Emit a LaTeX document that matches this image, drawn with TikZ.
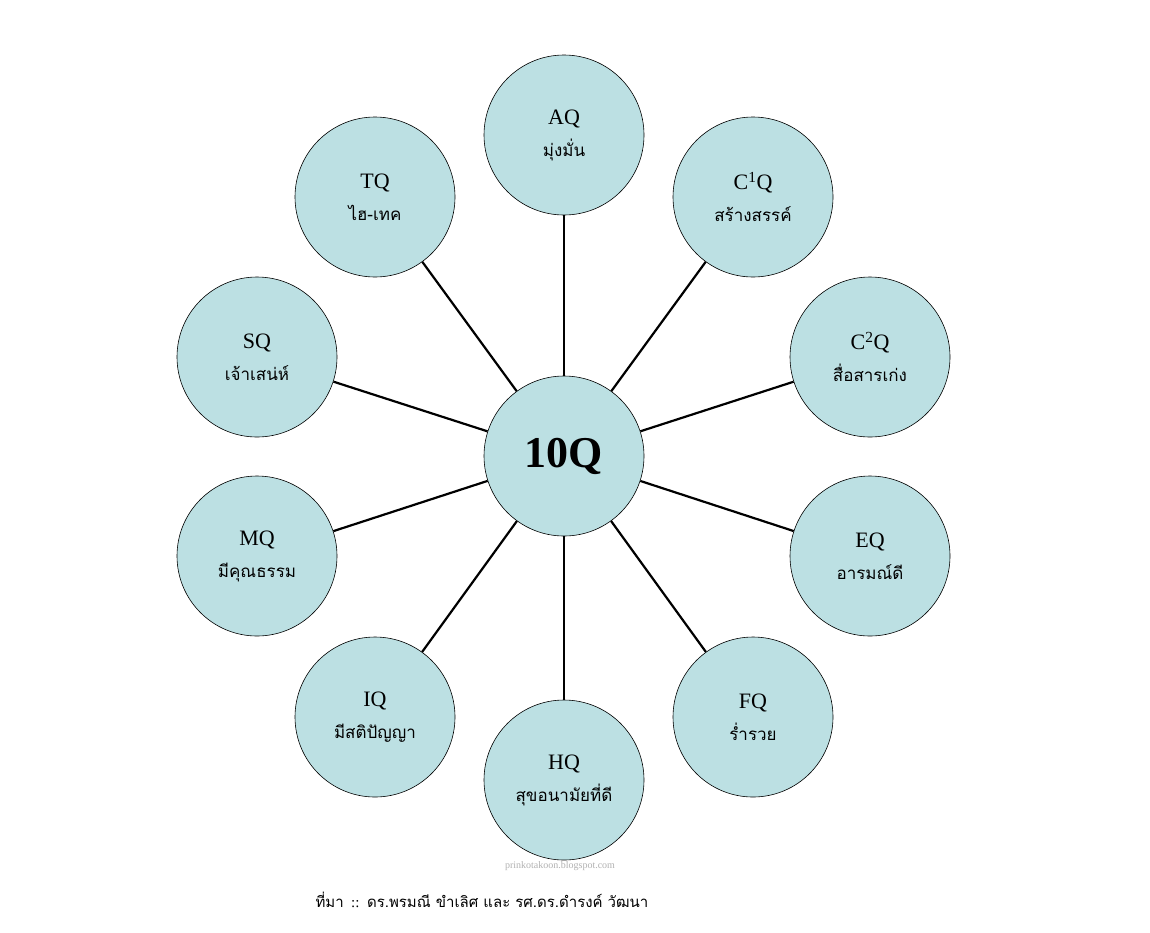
\documentclass[tikz,border=0pt]{standalone}
\usepackage{fontspec}
\setmainfont{Liberation Serif}
\newfontfamily\thai[Script=Thai]{Loma}
\definecolor{cfill}{HTML}{BCE0E3}
\tikzset{qc/.style={circle,draw=black,line width=0.6pt,fill=cfill,minimum size=160pt,inner sep=0pt,align=center,font=\fontsize{22}{30}\selectfont},
link/.style={line width=2.2pt}}
\begin{document}
\begin{tikzpicture}[x=1pt,y=-1pt]
\useasboundingbox[fill=white] (0,0) rectangle (1150,932);
\node[qc,font=\fontsize{44}{48}\selectfont\bfseries] (c) at (564,456) {10Q};
\foreach \n/\x/\y/\a/\b in {aq/564/135/AQ/มุ่งมั่น, c1/753/197/C\textsuperscript{1}Q/สร้างสรรค์, c2/870/357/C\textsuperscript{2}Q/สื่อสารเก่ง, eq/870/556/EQ/อารมณ์ดี, fq/753/717/FQ/ร่ำรวย, hq/564/780/HQ/สุขอนามัยที่ดี, iq/375/717/IQ/มีสติปัญญา, mq/257/556/MQ/มีคุณธรรม, sq/257/357/SQ/เจ้าเสน่ห์, tq/375/197/TQ/ไฮ-เทค}{
  \node[qc] (\n) at (\x,\y) {\a\\[2pt]{\thai\fontsize{17}{20}\selectfont \b}};
  \draw[link] (c) -- (\n);
}
\node[text=gray!60,font=\fontsize{10}{12}\selectfont] (w) at (560,866) {prinkotakoon.blogspot.com};
\node[anchor=west,font=\fontsize{15}{18}\selectfont] (s) at (312,900) {{\thai ที่มา}\ \ ::\ \ {\thai ดร.พรมณี ขำเลิศ และ รศ.ดร.ดำรงค์ วัฒนา}};
\end{tikzpicture}
\end{document}
